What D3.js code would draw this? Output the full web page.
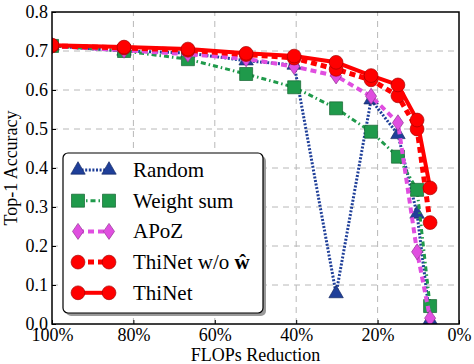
<!DOCTYPE html>
<html>
<head>
<meta charset="utf-8">
<script src="https://cdn.jsdelivr.net/npm/d3@7"></script>
<style>
  body { margin: 0; background: #fff; }
  svg, svg text { font-family: "Times New Roman", "Liberation Serif", Times, "DejaVu Serif", serif; }
</style>
</head>
<body>
<div id="chart"></div>
<script>
// FLOPs reduction (%) at each pruning step
const flops = [100, 82.3, 66.6, 52.3, 40.5, 30.2, 21.6, 15.0, 10.3, 7.1];

// Top-1 accuracy per method
const randomAcc   = [0.713, 0.700, 0.695, 0.675, 0.664, 0.078, 0.575, 0.486, 0.282, 0.010];
const weightSum   = [0.713, 0.700, 0.679, 0.641, 0.607, 0.553, 0.493, 0.429, 0.344, 0.046];
const apoz        = [0.713, 0.702, 0.692, 0.680, 0.660, 0.636, 0.584, 0.516, 0.185, 0.015];
const thinetNoW   = [0.713, 0.708, 0.702, 0.691, 0.682, 0.653, 0.626, 0.585, 0.500, 0.260];
const thinet      = [0.715, 0.710, 0.705, 0.694, 0.687, 0.671, 0.637, 0.613, 0.523, 0.349];

const xTicks = [100, 80, 60, 40, 20, 0];
const yTicks = [0, 0.1, 0.2, 0.3, 0.4, 0.5, 0.6, 0.7, 0.8];

const series = [
  {name: "Random", values: randomAcc, color: "#1f3f99", width: 3, dash: "2,1.6", marker: "triangle"},
  {name: "Weight sum", values: weightSum, color: "#1f9a4b", width: 3, dash: "5,3,1.5,3", marker: "square"},
  {name: "APoZ", values: apoz, color: "#e04ee0", width: 4, dash: "6,4", marker: "diamond"},
  {name: "ThiNet w/o", values: thinetNoW, color: "#ff0000", width: 5, dash: "6,4", marker: "circle"},
  {name: "ThiNet", values: thinet, color: "#ff0000", width: 4, dash: null, marker: "circle"}
];

const width = 474, height = 364;
const margin = {top: 12, right: 15, bottom: 40, left: 52};
const font = "'Times New Roman', 'Liberation Serif', Times, serif";

const svg = d3.select("#chart").append("svg")
    .attr("width", width)
    .attr("height", height)
    .attr("font-family", font);

const x = d3.scaleLinear().domain([100, 0]).range([margin.left, width - margin.right]);
const y = d3.scaleLinear().domain([0, 0.8]).range([height - margin.bottom, margin.top]);

svg.append("clipPath").attr("id", "clip")
  .append("rect")
    .attr("x", x(100)).attr("y", y(0.8))
    .attr("width", x(0) - x(100)).attr("height", y(0) - y(0.8));

// grid
const grid = svg.append("g")
    .attr("stroke", "#b8b8b8")
    .attr("stroke-width", 1)
    .attr("stroke-dasharray", "6,5");
grid.selectAll(".gx").data(xTicks.slice(1, -1)).join("line")
    .attr("x1", d => x(d)).attr("x2", d => x(d))
    .attr("y1", y(0)).attr("y2", y(0.8));
grid.selectAll(".gy").data(yTicks.slice(1, -1)).join("line")
    .attr("y1", d => y(d)).attr("y2", d => y(d))
    .attr("x1", x(100)).attr("x2", x(0));

// axes (inward ticks)
const xAxis = d3.axisBottom(x).tickValues(xTicks).tickFormat(d => d + "%").tickSizeInner(-4).tickSizeOuter(0).tickPadding(4);
const yAxis = d3.axisLeft(y).tickValues(yTicks).tickFormat(d3.format(".1f")).tickSizeInner(-4).tickSizeOuter(0).tickPadding(4);

svg.append("g")
    .attr("transform", `translate(0,${y(0)})`)
    .call(xAxis)
    .attr("font-family", font)
    .call(g => g.select(".domain").remove())
    .call(g => g.selectAll("text").attr("font-size", 18).attr("fill", "#000"));

svg.append("g")
    .attr("transform", `translate(${x(100)},0)`)
    .call(yAxis)
    .attr("font-family", font)
    .call(g => g.select(".domain").remove())
    .call(g => g.selectAll("text").attr("font-size", 18).attr("fill", "#000"));

// lines and markers
const line = d3.line().x((d, i) => x(flops[i])).y(d => y(d));
const plot = svg.append("g").attr("clip-path", "url(#clip)");

function markerPath(type) {
  if (type === "triangle") return d3.symbol(d3.symbolTriangle, 90)();
  if (type === "square") return "M-6.5,-6.5H6.5V6.5H-6.5Z";
  if (type === "diamond") return "M0,-8L5.5,0L0,8L-5.5,0Z";
  return d3.symbol(d3.symbolCircle, 150)();
}

series.forEach(s => {
  plot.append("path")
      .datum(s.values)
      .attr("fill", "none")
      .attr("stroke", s.color)
      .attr("stroke-width", s.width)
      .attr("stroke-dasharray", s.dash)
      .attr("d", line);
  plot.selectAll(null).data(s.values).join("path")
      .attr("transform", (d, i) => `translate(${x(flops[i])},${y(d)})`)
      .attr("d", markerPath(s.marker))
      .attr("fill", s.color)
      .attr("stroke", d3.color(s.color).darker(1.2))
      .attr("stroke-width", 0.7);
});

// frame
svg.append("rect")
    .attr("x", x(100)).attr("y", y(0.8))
    .attr("width", x(0) - x(100)).attr("height", y(0) - y(0.8))
    .attr("fill", "none").attr("stroke", "#000").attr("stroke-width", 1.5);

// axis labels
svg.append("text")
    .attr("x", (x(100) + x(0)) / 2).attr("y", 361)
    .attr("text-anchor", "middle").attr("font-size", 18)
    .text("FLOPs Reduction");
svg.append("text")
    .attr("transform", `translate(17,${(y(0) + y(0.8)) / 2}) rotate(-90)`)
    .attr("text-anchor", "middle").attr("font-size", 18)
    .text("Top-1 Accuracy");

// legend
const lg = svg.append("g").attr("transform", "translate(63,153)");
lg.append("rect").attr("x", 3).attr("y", 3).attr("width", 200).attr("height", 160).attr("rx", 5)
    .attr("fill", "#9a9a9a");
lg.append("rect").attr("width", 200).attr("height", 160).attr("rx", 5)
    .attr("fill", "#fff").attr("stroke", "#000").attr("stroke-width", 1.2);

series.forEach((s, i) => {
  const row = lg.append("g").attr("transform", `translate(0,${17 + i * 30.7})`);
  row.append("line").attr("x1", 15).attr("x2", 46)
      .attr("stroke", s.color).attr("stroke-width", s.width).attr("stroke-dasharray", s.dash);
  [15, 46].forEach(px => row.append("path")
      .attr("transform", `translate(${px},0)`)
      .attr("d", markerPath(s.marker))
      .attr("fill", s.color)
      .attr("stroke", d3.color(s.color).darker(1.2))
      .attr("stroke-width", 0.7));
  const t = row.append("text").attr("x", 70).attr("y", 7).attr("font-size", 21);
  if (s.name === "ThiNet w/o") {
    t.text("ThiNet w/o ");
    t.append("tspan").attr("font-weight", "bold").text("w\u0302");
  } else {
    t.text(s.name);
  }
});
</script>
</body>
</html>
